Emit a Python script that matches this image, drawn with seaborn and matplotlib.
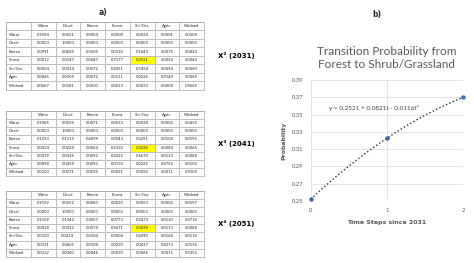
import numpy as np
import matplotlib.pyplot as plt
import seaborn as sns
from matplotlib.colors import ListedColormap
from matplotlib.ticker import FormatStrFormatter

# --- data ---
classes = ["Water", "Devel.", "Barren", "Forest", "Shr/Gra", "Agric", "Wetland"]

x2_2031 = [
    [0.9584, 0.0021, 0.0054, 0.0008, 0.0024, 0.0001, 0.0309],
    [0.0000, 1.0000, 0.0000, 0.0000, 0.0000, 0.0000, 0.0000],
    [0.0991, 0.0829, 0.5509, 0.0310, 0.1843, 0.0075, 0.0443],
    [0.0012, 0.0147, 0.0047, 0.7177, 0.2521, 0.0054, 0.0042],
    [0.0054, 0.0214, 0.0072, 0.2051, 0.7454, 0.0094, 0.0060],
    [0.0065, 0.0309, 0.0072, 0.0111, 0.0226, 0.9149, 0.0069],
    [0.0067, 0.0181, 0.0030, 0.0013, 0.0033, 0.0008, 0.9669],
]
x3_2041 = [
    [0.9385, 0.0036, 0.0071, 0.0013, 0.0038, 0.0002, 0.0455],
    [0.0000, 1.0000, 0.0000, 0.0000, 0.0000, 0.0000, 0.0000],
    [0.1293, 0.1115, 0.4099, 0.0543, 0.2251, 0.0104, 0.0595],
    [0.0024, 0.0228, 0.0064, 0.6310, 0.3226, 0.0084, 0.0065],
    [0.0079, 0.0316, 0.0092, 0.2622, 0.6670, 0.0133, 0.0088],
    [0.0098, 0.0459, 0.0093, 0.0170, 0.0325, 0.8752, 0.0103],
    [0.0100, 0.0271, 0.0039, 0.0021, 0.0050, 0.0011, 0.9509],
]
x4_2051 = [
    [0.9192, 0.0052, 0.0083, 0.0020, 0.0053, 0.0002, 0.0597],
    [0.0000, 1.0000, 0.0000, 0.0000, 0.0000, 0.0000, 0.0000],
    [0.1509, 0.1342, 0.3057, 0.0773, 0.2473, 0.0130, 0.0716],
    [0.0038, 0.0312, 0.0078, 0.5671, 0.3699, 0.0113, 0.0088],
    [0.0103, 0.0414, 0.0104, 0.3004, 0.6090, 0.0168, 0.0116],
    [0.0131, 0.0605, 0.0108, 0.0230, 0.0417, 0.8373, 0.0136],
    [0.0132, 0.0360, 0.0046, 0.0030, 0.0066, 0.0015, 0.9352],
]
table_names = ["X² (2031)", "X³ (2041)", "X⁴ (2051)"]

steps = [0, 1, 2]
forest_to_shrub = [0.2521, 0.3226, 0.3699]
equation = "y = 0.2521 + 0.0821t - 0.0116t²"

sns.set_theme(style="white")
plt.rcParams["font.family"] = ["Lato", "DejaVu Sans"]

fig = plt.figure(figsize=(4.74, 2.63), dpi=100)
GRAY = "#595959"
BOLD = ["DejaVu Sans"]


def draw_table(ax, values):
    n = len(classes)
    labels = np.full((n + 1, n + 1), "", dtype=object)
    labels[0, 1:] = classes
    labels[1:, 0] = classes
    labels[1:, 1:] = [[f"{v:.4f}" for v in row] for row in values]
    shade = np.zeros((n + 1, n + 1))
    shade[4, 5] = 1  # Forest -> Shr/Gra highlighted
    sns.heatmap(shade, annot=labels, fmt="", cmap=ListedColormap(["white", "#ffff00"]),
                vmin=0, vmax=1, cbar=False, linewidths=0.4, linecolor="#c0c0c0",
                annot_kws={"fontsize": 3, "color": "#262626"},
                xticklabels=False, yticklabels=False, ax=ax)
    # row labels are left aligned in the first column
    for t in ax.texts:
        x, y = t.get_position()
        if x < 1 and y > 1:
            t.set_ha("left")
            t.set_x(0.12)
    for s in ax.spines.values():
        s.set_visible(True)
        s.set_color("#a6a6a6")
        s.set_linewidth(0.5)


# tables (panel a)
boxes = [[0.0127, 0.6578, 0.4177, 0.2586],
         [0.0127, 0.3308, 0.4177, 0.2470],
         [0.0127, 0.0228, 0.4177, 0.2510]]
for box, vals, name in zip(boxes, [x2_2031, x3_2041, x4_2051], table_names):
    tax = fig.add_axes(box)
    draw_table(tax, vals)
    fig.text(0.459, box[1] + box[3] / 2, name, fontsize=5, fontweight="bold",
             ha="left", va="center", color="black", family=BOLD)

fig.text(103 / 474, 1 - 12 / 263, "a)", fontsize=5.5, fontweight="bold", ha="center",
         va="center", family=BOLD)
fig.text(377 / 474, 1 - 14 / 263, "b)", fontsize=5.5, fontweight="bold", ha="center",
         va="center", family=BOLD)

# line chart (panel b)
ax = fig.add_axes([0.6555, 0.2357, 0.3213, 0.4601])
sns.regplot(x=steps, y=forest_to_shrub, order=2, ci=None, ax=ax, color="#2f5597",
            scatter_kws={"s": 5, "clip_on": False, "zorder": 5},
            line_kws={"ls": ":", "lw": 1.0, "color": "#1f2a44"})
ax.set_xlim(0, 2)
ax.set_ylim(0.25, 0.39)
ax.set_xticks(steps)
ax.set_yticks(np.arange(0.25, 0.3901, 0.02))
ax.yaxis.set_major_formatter(FormatStrFormatter("%.2f"))
ax.grid(True, color="#d9d9d9", lw=0.5)
for s in ax.spines.values():
    s.set_visible(False)
ax.tick_params(length=0, labelsize=4.2, colors=GRAY, pad=5)
ax.set_xlabel("Time Steps since 2031", fontsize=4.5, fontweight="bold", color=GRAY,
              labelpad=5, family=BOLD)
ax.set_ylabel("Probability", fontsize=4.5, fontweight="bold", color=GRAY, labelpad=4,
              family=BOLD)
ax.text(0.24, 0.3576, equation, fontsize=4.6, color="#404040", ha="left", va="center")

fig.text(387 / 474, 1 - 58 / 263, "Transition Probability from\nForest to Shrub/Grassland",
         fontsize=8.5, color=GRAY, ha="center", va="center", linespacing=1.15)

fig.savefig("out.png", dpi=100)
